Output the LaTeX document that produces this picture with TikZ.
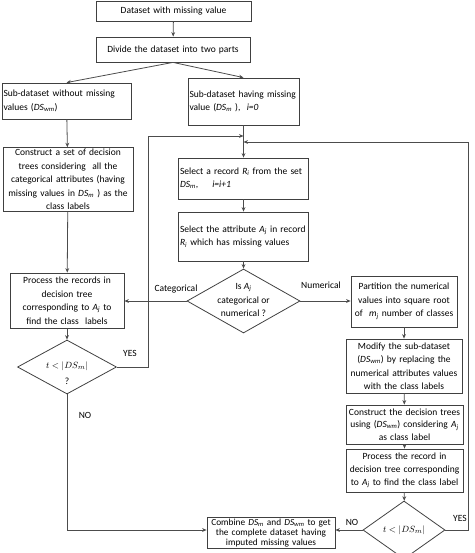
\documentclass[tikz,border=0pt]{standalone}
\usepackage{fontspec}
\setmainfont{Carlito}
\usetikzlibrary{shapes.geometric,arrows.meta}
\newcommand{\DSm}{\textit{DS}\textsubscript{\textit{m}}}
\newcommand{\DSwm}{\textit{DS}\textsubscript{\textit{wm}}}
\begin{document}
\begin{tikzpicture}[x=1pt,y=-1pt,
  box/.style={draw=black!75, line width=0.8pt, inner sep=1.5pt, font=\fontsize{9.5}{13.5}\selectfont, align=center},
  lbox/.style={box, align=left},
  dia/.style={draw=black!75, line width=0.8pt, diamond, inner sep=0pt},
  txt/.style={font=\fontsize{9.5}{13.5}\selectfont, align=center, inner sep=0pt},
  con/.style={draw=black!70, line width=0.8pt},
  arr/.style={con, -{Stealth[length=4.5pt,width=3.8pt]}}]
\useasboundingbox (0,0) rectangle (474,553);
\clip (0,0) rectangle (474,553);

% boxes
\node[box, minimum width=155pt, minimum height=20pt, text width=150pt] (b1) at (173.5,11) {Dataset with missing value};
\node[box, minimum width=154pt, minimum height=25pt, text width=150pt] (b2) at (173,49.5) {Divide the dataset into two parts};
\node[lbox, minimum width=129pt, minimum height=36pt, text width=126pt] (b3) at (66.5,101) {Sub-dataset without missing\\values (\DSwm)};
\node[lbox, minimum width=111pt, minimum height=47pt, text width=108pt] (b4) at (243.5,101.5) {Sub-dataset having missing\\value (\DSm\ ),~ \textit{i=0}\\[4pt]};
\node[box, minimum width=130pt, minimum height=63pt, text width=127pt] (b5) at (68,179.5) {Construct a set of decision\\trees considering~ all the\\categorical attributes (having\\missing values in \DSm\ ) as the\\class labels};
\node[box, minimum width=114pt, minimum height=55pt, text width=111pt] (b6) at (67,300.5) {Process the records in\\decision tree\\corresponding to \textit{A\textsubscript{j}} to\\find the class~ labels};
\node[lbox, minimum width=130pt, minimum height=41pt, text width=127pt] (b7) at (243.5,178.5) {Select a record \textit{R\textsubscript{i}} from the set\\\DSm,\hspace{14pt}\textit{i=i+1}\\[3pt]};
\node[lbox, minimum width=130pt, minimum height=49pt, text width=127pt] (b8) at (243.5,236.5) {Select the attribute \textit{A\textsubscript{j}} in record\\\textit{R\textsubscript{i}} which has missing values\\[6pt]};
\node[box, minimum width=106pt, minimum height=51pt, text width=103pt] (b9) at (404,301.5) {Partition the numerical\\values into square root\\of~ \textit{m\textsubscript{j}} number of classes};
\node[box, minimum width=116pt, minimum height=54pt, text width=113pt] (b10) at (404,366) {Modify the sub-dataset\\(\DSwm) by replacing the\\numerical attributes values\\with the class labels};
\node[box, minimum width=117pt, minimum height=39pt, text width=114pt, font=\fontsize{9.5}{12.5}\selectfont] (b11) at (404.5,424.5) {Construct the decision trees\\using (\DSwm) considering \textit{A\textsubscript{j}}\\as class label};
\node[box, minimum width=117pt, minimum height=43pt, text width=114pt, font=\fontsize{9.5}{13}\selectfont] (b12) at (404.5,470.5) {Process the record in\\decision tree corresponding\\to \textit{A\textsubscript{j}} to find the class label};
\node[box, minimum width=128pt, minimum height=29pt, text width=125pt, font=\fontsize{9.3}{9.8}\selectfont] (b13) at (271,533) {Combine \DSm\ and \DSwm\ to get\\the complete dataset having\\imputed missing values};

% diamonds
\node[dia, minimum width=99pt, minimum height=54pt] (d1) at (67,367) {};
\node[txt] (d1t) at (67,373) {$t<\left|DS_m\right|$\\[2pt]?};
\node[dia, minimum width=113pt, minimum height=64pt] (d2) at (243.5,301) {};
\node[txt] (d2t) at (243.5,300) {Is \textit{A\textsubscript{j}}\\categorical or\\numerical ?};
\node[dia, minimum width=82pt, minimum height=58pt] (d3) at (404,530) {};
\node[txt] (d3t) at (404,530) {$t<\left|DS_m\right|$};

% labels
\node[txt] (lcat) at (176,289) {Categorical};
\node[txt] (lnum) at (321,285) {Numerical};
\node[txt] (lyes1) at (130,353) {YES};
\node[txt] (lno1) at (85,415) {NO};
\node[txt] (lno2) at (352,522) {NO};
\node[txt] (lyes2) at (460,518) {YES};

% joints
\coordinate (jl) at (243.5,136);
\coordinate (jr) at (243.5,142);
\coordinate (c1) at (148,367);
\coordinate (c2) at (148,136);
\coordinate (c3) at (468,530);
\coordinate (c4) at (468,142);
\coordinate (c5) at (67,530);

% connectors
\draw[arr] (b1) -- (b2);
\draw[arr] (b2.south) -- (b3.north);
\draw[arr] (b2.south) -- (b4.north);
\draw[arr] (b3) -- (b5);
\draw[arr] (b5) -- (b6);
\draw[arr] (b6) -- (d1);
\draw[arr] (b4) -- (b7);
\draw[arr] (b7) -- (b8);
\draw[arr] (b8) -- (d2);
\draw[arr] (d2.west) -- (b6.east |- d2.west);
\draw[arr] (d2.east) -- (b9.west |- d2.east);
\draw[arr] (b9) -- (b10);
\draw[arr] (b10) -- (b11);
\draw[arr] (b11) -- (b12);
\draw[arr] (b12) -- (d3);
\draw[arr] (d3.west) -- (b13.east |- d3.west);
\draw[arr] (d1.east) -- (c1) -- (c2) -- (jl);
\draw[arr] (d3.east) -- (c3) -- (c4) -- (jr);
\draw[arr] (d1.south) -- (c5) -- (b13.west |- c5);
\end{tikzpicture}
\end{document}
